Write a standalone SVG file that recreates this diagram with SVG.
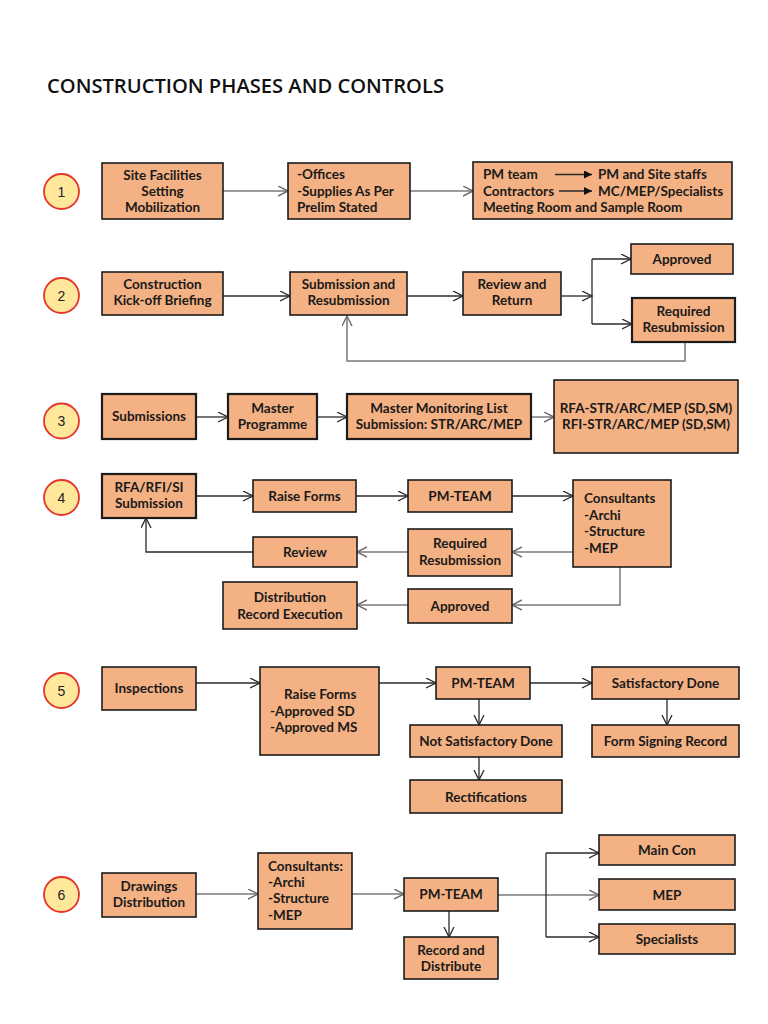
<svg xmlns="http://www.w3.org/2000/svg" width="768" height="1024" viewBox="0 0 768 1024">
<style>
.box{fill:#F4B183;stroke:#1c1c1c;stroke-width:1.6}
.thick{stroke-width:2.2}
.num{fill:#FFE89C;stroke:#E5352B;stroke-width:1.8}
.t{font-family:Lato,"Liberation Sans",sans-serif;font-weight:700;font-size:13.5px;fill:#1a1a1a}
.c{text-anchor:middle}
.n{font-family:"Liberation Sans",Arial,sans-serif;font-size:14px;fill:#222;text-anchor:middle}
.title{font-family:"Open Sans","Liberation Sans",sans-serif;font-weight:600;font-size:19px;fill:#111}
.dk{fill:none;stroke:#2a2a2a;stroke-width:1.3}
.gr{fill:none;stroke:#7a7a7a;stroke-width:1.5}
.ad{marker-end:url(#ahd)}
.ag{marker-end:url(#ahg)}
</style>
<defs>
<marker id="ahd" markerUnits="userSpaceOnUse" markerWidth="12" markerHeight="12" refX="10" refY="5.5" orient="auto"><path d="M0,0.5 L10,5.5 L0,10.5" fill="none" stroke="#2a2a2a" stroke-width="1.3"/></marker>
<marker id="ahg" markerUnits="userSpaceOnUse" markerWidth="12" markerHeight="12" refX="10" refY="5.5" orient="auto"><path d="M0,0.5 L10,5.5 L0,10.5" fill="none" stroke="#6a6a6a" stroke-width="1.4"/></marker>
<marker id="tri" markerUnits="userSpaceOnUse" markerWidth="10" markerHeight="8" refX="8" refY="4" orient="auto"><path d="M0,0 L8,4 L0,8 Z" fill="#111"/></marker>
</defs>
<rect width="768" height="1024" fill="#fff"/>
<text class="title" x="47" y="93" textLength="397" lengthAdjust="spacingAndGlyphs">CONSTRUCTION PHASES AND CONTROLS</text>

<g id="connectors">
<path class="gr ag" d="M223,191 H288"/>
<path class="gr ag" d="M410,191 H473"/>
<path class="dk ad" d="M223,296 H290"/>
<path class="dk ad" d="M407,296 H463"/>
<path class="dk ad" d="M562,296 H592"/>
<path class="dk" d="M592,259 V324"/>
<path class="dk ad" d="M592,259 H631"/>
<path class="dk ad" d="M592,324 H632"/>
<path class="gr ag" d="M685,342 V361 H347 V316"/>
<path class="dk ad" d="M196,417 H228"/>
<path class="dk ad" d="M317,417 H347"/>
<path class="gr ag" d="M531,417 H554"/>
<path class="dk ad" d="M196,496 H253"/>
<path class="dk ad" d="M356,496 H408"/>
<path class="dk ad" d="M512,496 H573"/>
<path class="gr ag" d="M573,552 H512"/>
<path class="gr ag" d="M408,552 H357"/>
<path class="dk ad" d="M253,552 H146 V518"/>
<path class="gr ag" d="M620,567 V605 H512"/>
<path class="gr ag" d="M408,605 H357"/>
<path class="dk ad" d="M196,683 H260"/>
<path class="dk ad" d="M379,683 H436"/>
<path class="dk ad" d="M530,683 H592"/>
<path class="dk ad" d="M479,699 V725"/>
<path class="dk ad" d="M479,757 V780"/>
<path class="dk ad" d="M667,699 V725"/>
<path class="gr ag" d="M196,894 H258"/>
<path class="gr ag" d="M352,894 H404"/>
<path class="gr ag" d="M498,895 H599"/>
<path class="dk" d="M546,853 V937"/>
<path class="dk ad" d="M546,853 H599"/>
<path class="dk ad" d="M546,937 H599"/>
<path class="dk ad" d="M449,911 V937"/>
</g>

<g id="n1"><circle class="num" cx="61.5" cy="191.5" r="17.5"/><text class="n" x="61.5" y="196.5">1</text></g>
<g id="n2"><circle class="num" cx="61.5" cy="295.5" r="17.5"/><text class="n" x="61.5" y="300.5">2</text></g>
<g id="n3"><circle class="num" cx="61.5" cy="421" r="17.5"/><text class="n" x="61.5" y="426">3</text></g>
<g id="n4"><circle class="num" cx="61.5" cy="497.5" r="17.5"/><text class="n" x="61.5" y="502.5">4</text></g>
<g id="n5"><circle class="num" cx="61.5" cy="690.5" r="17.5"/><text class="n" x="61.5" y="695.5">5</text></g>
<g id="n6"><circle class="num" cx="61.5" cy="894.5" r="17.5"/><text class="n" x="61.5" y="899.5">6</text></g>

<g id="site-facilities"><rect class="box" x="102" y="163" width="121" height="56"/>
<text class="t c" x="162.5" y="180">Site Facilities</text><text class="t c" x="162.5" y="196">Setting</text><text class="t c" x="162.5" y="212">Mobilization</text></g>
<g id="offices"><rect class="box" x="288" y="163" width="122" height="56"/>
<text class="t" x="297" y="179">-Offices</text><text class="t" x="297" y="195.5">-Supplies As Per</text><text class="t" x="297" y="211.5">Prelim Stated</text></g>
<g id="pm-team-1"><rect class="box" x="473" y="162" width="259" height="57"/>
<path class="dk" d="M555,174.5 H592" marker-end="url(#tri)"/>
<path class="dk" d="M559,191 H592" marker-end="url(#tri)"/>
<text class="t" x="483" y="179">PM team</text><text class="t" x="598" y="179">PM and Site staffs</text>
<text class="t" x="483" y="195.5">Contractors</text><text class="t" x="598" y="195.5">MC/MEP/Specialists</text>
<text class="t" x="483" y="211.5">Meeting Room and Sample Room</text></g>

<g id="kickoff"><rect class="box" x="102" y="272" width="121" height="43"/>
<text class="t c" x="162.5" y="289">Construction</text><text class="t c" x="162.5" y="305">Kick-off Briefing</text></g>
<g id="submission"><rect class="box" x="290" y="272" width="117" height="43"/>
<text class="t c" x="348.5" y="289">Submission and</text><text class="t c" x="348.5" y="305">Resubmission</text></g>
<g id="review-return"><rect class="box" x="463" y="272" width="98" height="43"/>
<text class="t c" x="512" y="289">Review and</text><text class="t c" x="512" y="305">Return</text></g>
<g id="approved-2"><rect class="box" x="631" y="244" width="102" height="30"/>
<text class="t c" x="682" y="264">Approved</text></g>
<g id="required-2"><rect class="box thick" x="632" y="298" width="103" height="44"/>
<text class="t c" x="683.5" y="316">Required</text><text class="t c" x="683.5" y="332">Resubmission</text></g>

<g id="submissions"><rect class="box thick" x="102" y="394" width="94" height="45"/>
<text class="t c" x="149" y="421">Submissions</text></g>
<g id="master-programme"><rect class="box thick" x="228" y="394" width="89" height="45"/>
<text class="t c" x="272.5" y="413">Master</text><text class="t c" x="272.5" y="429">Programme</text></g>
<g id="master-monitoring"><rect class="box thick" x="347" y="394" width="184" height="45"/>
<text class="t c" x="439" y="413">Master Monitoring List</text><text class="t c" x="439" y="429">Submission: STR/ARC/MEP</text></g>
<g id="rfa-rfi"><rect class="box" x="554" y="380" width="184" height="73"/>
<text class="t c" x="646" y="413">RFA-STR/ARC/MEP (SD,SM)</text><text class="t c" x="646" y="429">RFI-STR/ARC/MEP (SD,SM)</text></g>

<g id="rfa-rfi-si"><rect class="box thick" x="102" y="474" width="94" height="44"/>
<text class="t c" x="149" y="492">RFA/RFI/SI</text><text class="t c" x="149" y="508">Submission</text></g>
<g id="raise-forms-4"><rect class="box" x="253" y="480" width="103" height="32"/>
<text class="t c" x="304.5" y="501">Raise Forms</text></g>
<g id="pm-team-4"><rect class="box" x="408" y="480" width="104" height="32"/>
<text class="t c" x="460" y="501">PM-TEAM</text></g>
<g id="consultants-4"><rect class="box" x="573" y="480" width="98" height="87"/>
<text class="t" x="584" y="503">Consultants</text><text class="t" x="584" y="519.5">-Archi</text><text class="t" x="584" y="536">-Structure</text><text class="t" x="584" y="552.5">-MEP</text></g>
<g id="required-4"><rect class="box" x="408" y="529" width="104" height="47"/>
<text class="t c" x="460" y="548">Required</text><text class="t c" x="460" y="565">Resubmission</text></g>
<g id="review-4"><rect class="box" x="253" y="537" width="104" height="30"/>
<text class="t c" x="305" y="557">Review</text></g>
<g id="approved-4"><rect class="box" x="408" y="589" width="104" height="34"/>
<text class="t c" x="460" y="610.5">Approved</text></g>
<g id="distribution"><rect class="box" x="223" y="582" width="134" height="47"/>
<text class="t c" x="290" y="601.5">Distribution</text><text class="t c" x="290" y="618.5">Record Execution</text></g>

<g id="inspections"><rect class="box" x="102" y="667" width="94" height="43"/>
<text class="t c" x="149" y="693">Inspections</text></g>
<g id="raise-forms-5"><rect class="box" x="260" y="667" width="119" height="88"/>
<text class="t" x="284" y="699">Raise Forms</text><text class="t" x="270" y="715.5">-Approved SD</text><text class="t" x="270" y="732">-Approved MS</text></g>
<g id="pm-team-5"><rect class="box" x="436" y="667" width="94" height="32"/>
<text class="t c" x="483" y="688">PM-TEAM</text></g>
<g id="satisfactory"><rect class="box" x="592" y="667" width="147" height="32"/>
<text class="t c" x="665.5" y="688">Satisfactory Done</text></g>
<g id="not-satisfactory"><rect class="box" x="410" y="725" width="152" height="32"/>
<text class="t c" x="486" y="746">Not Satisfactory Done</text></g>
<g id="rectifications"><rect class="box" x="410" y="780" width="152" height="33"/>
<text class="t c" x="486" y="801.5">Rectifications</text></g>
<g id="form-signing"><rect class="box" x="592" y="725" width="147" height="32"/>
<text class="t c" x="665.5" y="746">Form Signing Record</text></g>

<g id="drawings"><rect class="box" x="102" y="873" width="94" height="44"/>
<text class="t c" x="149" y="891">Drawings</text><text class="t c" x="149" y="907">Distribution</text></g>
<g id="consultants-6"><rect class="box" x="258" y="853" width="94" height="76"/>
<text class="t" x="268" y="871">Consultants:</text><text class="t" x="268" y="887">-Archi</text><text class="t" x="268" y="903">-Structure</text><text class="t" x="268" y="919.5">-MEP</text></g>
<g id="pm-team-6"><rect class="box" x="404" y="878" width="94" height="33"/>
<text class="t c" x="451" y="899">PM-TEAM</text></g>
<g id="record-distribute"><rect class="box" x="404" y="937" width="94" height="42"/>
<text class="t c" x="451" y="954.5">Record and</text><text class="t c" x="451" y="970.5">Distribute</text></g>
<g id="main-con"><rect class="box" x="599" y="835" width="136" height="30"/>
<text class="t c" x="667" y="855">Main Con</text></g>
<g id="mep"><rect class="box" x="599" y="879" width="136" height="31"/>
<text class="t c" x="667" y="899.5">MEP</text></g>
<g id="specialists"><rect class="box" x="599" y="924" width="136" height="30"/>
<text class="t c" x="667" y="944">Specialists</text></g>
</svg>
